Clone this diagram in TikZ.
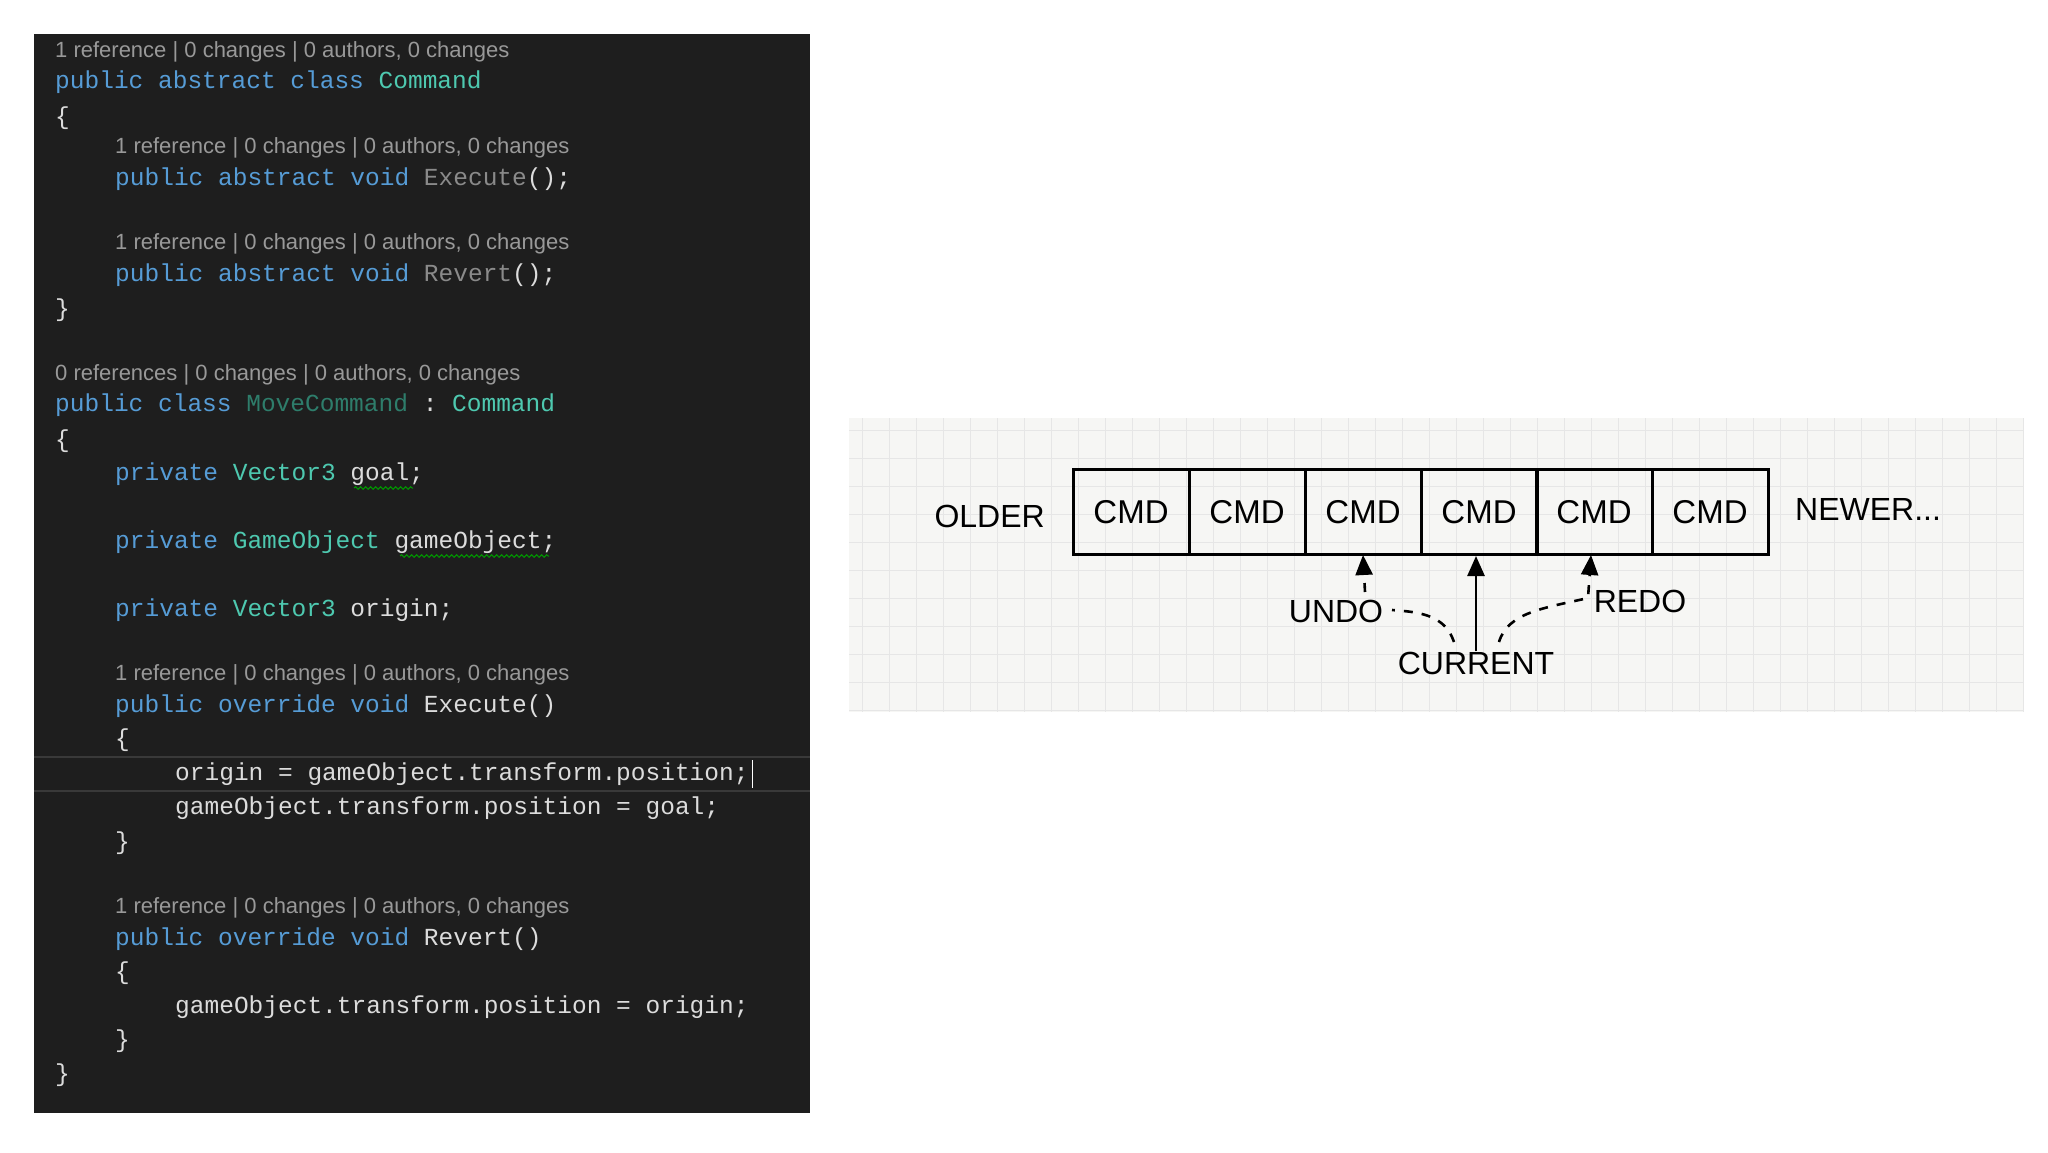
\documentclass[tikz,border=0pt]{standalone}
\usepackage{fontspec}
\setmainfont{Liberation Sans}
\setmonofont{Liberation Mono}
\usetikzlibrary{arrows.meta,decorations.pathmorphing}
\definecolor{bg}{HTML}{1E1E1E}
\definecolor{kwc}{HTML}{569CD6}
\definecolor{tyc}{HTML}{4EC9B0}
\definecolor{tyd}{HTML}{2E7D6B}
\definecolor{fnc}{HTML}{8A8A8A}
\definecolor{txc}{HTML}{DCDCDC}
\definecolor{lensc}{HTML}{999999}
\definecolor{paper}{HTML}{F6F6F4}
\definecolor{gridc}{HTML}{E6E6E6}
\newcommand{\kw}[1]{\textcolor{kwc}{#1}}
\newcommand{\ty}[1]{\textcolor{tyc}{#1}}
\newcommand{\fn}[1]{\textcolor{fnc}{#1}}
\tikzset{
 code/.style={anchor=west,inner sep=0pt,text=txc,font=\ttfamily\fontsize{24.5}{26}\selectfont},
 lens/.style={anchor=west,inner sep=0pt,text=lensc,font=\fontsize{22}{24}\selectfont},
 cell/.style={draw=black,line width=3pt,minimum width=116pt,minimum height=85pt,inner sep=0pt,font=\fontsize{33}{35}\selectfont},
 hand/.style={inner sep=0pt,font=\fontsize{32}{34}\selectfont},
 dline/.style={line width=2.6pt,dash pattern=on 9pt off 9pt},
 arr/.style={line width=2.6pt,-{Triangle[length=20pt,width=17pt]}},
 darr/.style={arr,dash pattern=on 9pt off 9pt},
 squig/.style={draw=green!60!black,line width=1pt,decorate,decoration={snake,amplitude=1.3pt,segment length=5pt}}
}
\begin{document}
\begin{tikzpicture}[x=1pt,y=-1pt]
\useasboundingbox[fill=white] (0,0) rectangle (2048,1152);
% code panel
\fill[bg] (34,34) rectangle (810,1113);
\draw[gray!45!black,line width=2pt] (34,757) -- (810,757) (34,791) -- (810,791);
\node[lens] (l1) at (55,52) {1 reference | 0 changes | 0 authors, 0 changes};
\node[code] (l2) at (55,82) {\kw{public abstract class} \ty{Command}};
\node[code] (l3) at (55,118) {\{};
\node[lens] (l4) at (115,148) {1 reference | 0 changes | 0 authors, 0 changes};
\node[code] (l5) at (115,179) {\kw{public abstract void} \fn{Execute}();};
\node[lens] (l6) at (115,244) {1 reference | 0 changes | 0 authors, 0 changes};
\node[code] (l7) at (115,275) {\kw{public abstract void} \fn{Revert}();};
\node[code] (l8) at (55,310) {\}};
\node[lens] (l9) at (55,375) {0 references | 0 changes | 0 authors, 0 changes};
\node[code] (l10) at (55,405) {\kw{public class} \textcolor{tyd}{MoveCommand} : \ty{Command}};
\node[code] (l11) at (55,441) {\{};
\node[code] (l12) at (115,474) {\kw{private} \ty{Vector3} goal;};
\node[code] (l13) at (115,542) {\kw{private} \ty{GameObject} gameObject;};
\node[code] (l14) at (115,610) {\kw{private} \ty{Vector3} origin;};
\node[lens] (l15) at (115,675) {1 reference | 0 changes | 0 authors, 0 changes};
\node[code] (l16) at (115,706) {\kw{public override void} Execute()};
\node[code] (l17) at (115,740) {\{};
\node[code] (l18) at (175,774) {origin = gameObject.transform.position;};
\node[code] (l19) at (175,808) {gameObject.transform.position = goal;};
\node[code] (l20) at (115,843) {\}};
\node[lens] (l21) at (115,908) {1 reference | 0 changes | 0 authors, 0 changes};
\node[code] (l22) at (115,939) {\kw{public override void} Revert()};
\node[code] (l23) at (115,973) {\{};
\node[code] (l24) at (175,1007) {gameObject.transform.position = origin;};
\node[code] (l25) at (115,1041) {\}};
\node[code] (l26) at (55,1075) {\}};
\draw[white,line width=1.3pt] (l18.east) ++(4,-14) -- ++(0,28);
\draw[squig] (354,488) -- (413,488);
\draw[squig] (400,556) -- (549,556);
% sketch panel
\fill[paper] (849,418) rectangle (2024,712);
\foreach \gx in {862,889,...,2024} \draw[gridc,line width=0.8pt] (\gx,418) -- (\gx,712);
\foreach \gy in {430,458,...,712} \draw[gridc,line width=0.8pt] (849,\gy) -- (2024,\gy);
\foreach \i/\cx in {1/1131,2/1247,3/1363,4/1479,5/1594,6/1710}
  \node[cell] (c\i) at (\cx,512) {CMD};
\node[hand,anchor=east] (older) at (1045,516) {OLDER};
\node[hand,anchor=west] (newer) at (1795,509) {NEWER...};
\node[hand] (undo) at (1336,611) {UNDO};
\node[hand] (redo) at (1640,601) {REDO};
\node[hand] (cur) at (1476,663) {CURRENT};
\draw[arr] (cur.north) -- (cur.north |- c4.south);
\draw[dline] (1454,642) .. controls (1445,615) and (1420,612) .. (1392,610);
\draw[darr] (1365,592) -- (1363,555);
\draw[darr] (1499,642) .. controls (1508,612) and (1545,608) .. (1588,598) -- (1591,555);
\end{tikzpicture}
\end{document}
